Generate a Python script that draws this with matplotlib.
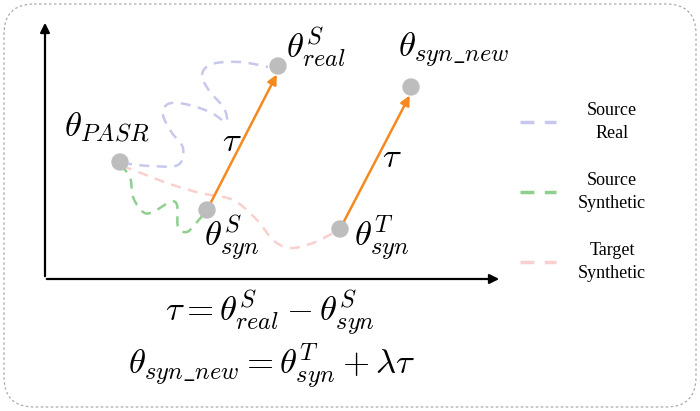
import numpy as np
import matplotlib
matplotlib.use("Agg")
import matplotlib.pyplot as plt
from matplotlib.patches import FancyBboxPatch, Circle

plt.rcParams['mathtext.fontset'] = 'cm'
plt.rcParams['font.family'] = ['Liberation Serif', 'DejaVu Serif']

# diagram nodes (pixel space of the 700x411 picture)
node_names = ['pasr', 'syn_s', 'real_s', 'syn_t', 'new']
node_x = [120, 207, 278, 340, 411]
node_y = [162, 210, 66, 229, 87]

blue_x = [122, 150, 178, 183, 172, 163, 168, 185, 210, 226, 224, 210, 202, 212, 240, 268]
blue_y = [163, 166, 165, 148, 133, 115, 104, 104, 112, 122, 108, 92, 75, 64, 62, 67]
green_x = [120, 130, 133, 143, 153, 170, 177, 178, 187, 197, 203]
green_y = [165, 177, 197, 212, 212, 202, 205, 227, 232, 222, 215]
pink_x = [122, 133, 167, 200, 233, 257, 273, 290, 313, 333]
pink_y = [166, 170, 183, 193, 200, 220, 240, 248, 243, 233]

legend_labels = ['Source\nReal', 'Source\nSynthetic', 'Target\nSynthetic']
legend_colors = ['#c8c8ee', '#8fd08f', '#f8d0d0']
legend_y = [122, 192, 262]


def smooth(xs, ys, n=20):
    # catmull-rom for a nicer wiggle
    p = np.column_stack([xs, ys]).astype(float)
    p = np.vstack([p[0], p, p[-1]])
    out = []
    for i in range(1, len(p) - 2):
        p0, p1, p2, p3 = p[i - 1], p[i], p[i + 1], p[i + 2]
        for t in np.linspace(0, 1, n, endpoint=False):
            out.append(0.5 * (2 * p1 + (-p0 + p2) * t + (2 * p0 - 5 * p1 + 4 * p2 - p3) * t ** 2
                              + (-p0 + 3 * p1 - 3 * p2 + p3) * t ** 3))
    out.append(p[-2])
    out = np.array(out)
    return out[:, 0], out[:, 1]


fig = plt.figure(figsize=(7, 4.11), dpi=100)
ax = fig.add_axes([0, 0, 1, 1])
ax.set_xlim(0, 700)
ax.set_ylim(411, 0)
ax.axis('off')

ax.add_patch(FancyBboxPatch((4, 4), 692, 403, boxstyle="round,pad=0,rounding_size=30",
                            fill=False, ec='#aaaaaa', lw=0.9, ls=(0, (2, 2))))

# axes arrows
ax.annotate('', xy=(45, 20), xytext=(45, 279),
            arrowprops=dict(arrowstyle='-|>', color='black', lw=1.6, mutation_scale=14))
ax.annotate('', xy=(502, 279), xytext=(44, 279),
            arrowprops=dict(arrowstyle='-|>', color='black', lw=1.6, mutation_scale=14))

for xs, ys, c in [(blue_x, blue_y, legend_colors[0]), (green_x, green_y, legend_colors[1]),
                  (pink_x, pink_y, legend_colors[2])]:
    sx, sy = smooth(xs, ys)
    ax.plot(sx, sy, color=c, lw=1.8, ls=(0, (4, 3)), zorder=2)

# orange translation arrows
for a, b in [(1, 2), (3, 4)]:
    ax.annotate('', xy=(node_x[b], node_y[b] + 6), xytext=(node_x[a], node_y[a]),
                arrowprops=dict(arrowstyle='-|>', color='#f5891f', lw=1.8, mutation_scale=14),
                zorder=3)

for x, y in zip(node_x, node_y):
    ax.add_patch(Circle((x, y), 8, color='#bdbdbd', zorder=4))

fs = 25
ax.text(64, 128, r'$\theta_{PASR}$', fontsize=fs, va='center')
ax.text(286, 48, r'$\theta^{S}_{real}$', fontsize=fs, va='center')
ax.text(398, 50, r'$\theta_{syn\_new}$', fontsize=fs, va='center')
ax.text(204, 238, r'$\theta^{S}_{syn}$', fontsize=fs, va='center')
ax.text(354, 238, r'$\theta^{T}_{syn}$', fontsize=fs, va='center')
ax.text(232, 142, r'$\tau$', fontsize=fs, va='center', ha='center')
ax.text(392, 158, r'$\tau$', fontsize=fs, va='center', ha='center')

ax.text(270, 313, r'$\tau = \theta^{S}_{real} - \theta^{S}_{syn}$', fontsize=fs, ha='center', va='center')
ax.text(272, 366, r'$\theta_{syn\_new} = \theta^{T}_{syn} + \lambda\tau$', fontsize=fs,
        ha='center', va='center')

for lab, c, y in zip(legend_labels, legend_colors, legend_y):
    ax.plot([520, 556], [y, y], color=c, lw=2.5, ls=(0, (4, 3)))
    ax.text(612, y, lab, fontsize=13, ha='center', va='center', linespacing=1.4)

fig.savefig('out.png', dpi=100)
